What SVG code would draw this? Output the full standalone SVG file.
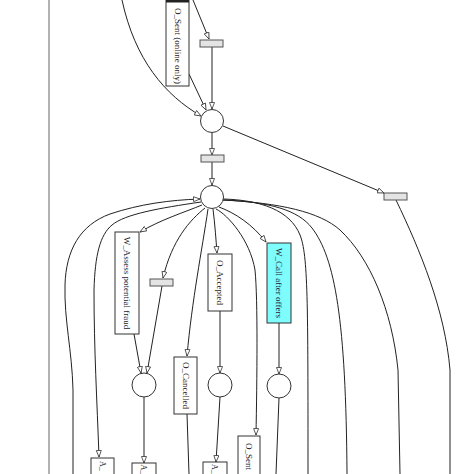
<svg xmlns="http://www.w3.org/2000/svg" width="474" height="474" viewBox="0 0 474 474">
<style>
.box{fill:#fff;stroke:#333;stroke-width:1}
.cyan{fill:#7ffcfc;stroke:#333;stroke-width:1}
.tr{fill:#e4e4e4;stroke:#555;stroke-width:1}
.pl{fill:#fff;stroke:#333;stroke-width:1}
.e{fill:none;stroke:#222;stroke-width:1}
.t{font-family:"Liberation Serif","Times New Roman",serif;font-size:9px;fill:#222;text-anchor:middle}
.s{font-family:"Liberation Serif","Times New Roman",serif;font-size:8px;fill:#222;text-anchor:start}
</style>
<defs>
<marker id="a" markerUnits="userSpaceOnUse" markerWidth="8" markerHeight="7" refX="7" refY="3" orient="auto">
<path d="M0.5,0.5 L7,3 L0.5,5.5 z" fill="#fff" stroke="#333" stroke-width="0.8"/>
</marker>
</defs>
<rect width="474" height="474" fill="#fff"/>
<line x1="49" y1="0" x2="49" y2="474" stroke="#999" stroke-width="1.5"/>
<g id="connectors">
<path class="e" d="M193,0 L209,39" marker-end="url(#a)"/>
<path class="e" d="M122,0 C135,60 165,95 201,116" marker-end="url(#a)"/>
<path class="e" d="M189,74 L206,110" marker-end="url(#a)"/>
<path class="e" d="M212,47 L212,109" marker-end="url(#a)"/>
<path class="e" d="M212,133 L212,155" marker-end="url(#a)"/>
<path class="e" d="M223,126 L384,193" marker-end="url(#a)"/>
<path class="e" d="M212,162 L212,185" marker-end="url(#a)"/>
<path class="e" d="M73,474 L73,390 C72,350 64,320 65,285 C66,250 80,225 110,214 C140,204 170,200 200,199" marker-end="url(#a)"/>
<path class="e" d="M201,202 C160,208 125,214 112,225 C100,235 95,255 94,290 C94,350 97,400 99,457" marker-end="url(#a)"/>
<path class="e" d="M202,205 C185,212 160,220 140,232" marker-end="url(#a)"/>
<path class="e" d="M205,208 C190,220 172,240 163,278" marker-end="url(#a)"/>
<path class="e" d="M208,209 C202,250 192,300 187,356" marker-end="url(#a)"/>
<path class="e" d="M213,209 C215,225 216,240 217,253" marker-end="url(#a)"/>
<path class="e" d="M219,207 C235,213 252,224 266,242" marker-end="url(#a)"/>
<path class="e" d="M216,209 C228,215 250,240 255,270 C258,300 257,380 256,435" marker-end="url(#a)"/>
<path class="e" d="M223,199 C260,200 290,210 300,235 C308,255 308,300 308,474"/>
<path class="e" d="M223,200 C270,202 298,210 312,228 C335,258 346,320 347,474"/>
<path class="e" d="M223,200 C280,203 320,212 340,230 C370,258 392,310 398,370 L400,474"/>
<path class="e" d="M396,200 C420,250 445,310 450,370 L450,474"/>
<path class="e" d="M134,334 L141,373" marker-end="url(#a)"/>
<path class="e" d="M162,286 L147,373" marker-end="url(#a)"/>
<path class="e" d="M220,311 L220,373" marker-end="url(#a)"/>
<path class="e" d="M279,323 L279,374" marker-end="url(#a)"/>
<path class="e" d="M144,397 L144,463" marker-end="url(#a)"/>
<path class="e" d="M220,397 L216,462" marker-end="url(#a)"/>
<path class="e" d="M187,414 L189,474"/>
<path class="e" d="M279,398 L276,474"/>
</g>
<g id="o_sent_online">
<rect class="box" x="166" y="-5" width="23" height="91"/>
<rect x="166" y="0" width="23" height="2.5" fill="#222"/>
<text class="t" transform="translate(174.5,46) rotate(90)">O_Sent (online only)</text>
</g>
<g id="t1"><rect class="tr" x="200" y="40" width="23" height="7"/></g>
<g id="p1"><circle class="pl" cx="212" cy="121" r="11.5"/></g>
<g id="t2"><rect class="tr" x="201" y="155" width="23" height="7"/></g>
<g id="p2"><circle class="pl" cx="212" cy="197" r="11.5"/></g>
<g id="t3"><rect class="tr" x="384" y="193" width="23" height="7"/></g>
<g id="w_assess">
<rect class="box" x="115" y="232" width="24" height="102"/>
<text class="t" transform="translate(124,283) rotate(90)">W_Assess potential fraud</text>
</g>
<g id="t4"><rect class="tr" x="150" y="279" width="23" height="7"/></g>
<g id="o_accepted">
<rect class="box" x="208" y="254" width="24" height="57"/>
<text class="t" transform="translate(217,282.5) rotate(90)">O_Accepted</text>
</g>
<g id="w_call">
<rect class="cyan" x="267" y="243" width="24" height="80"/>
<text class="t" transform="translate(276,283) rotate(90)">W_Call after offers</text>
</g>
<g id="o_cancelled">
<rect class="box" x="174" y="357" width="23" height="57"/>
<text class="t" transform="translate(182.5,385.5) rotate(90)">O_Cancelled</text>
</g>
<g id="p3"><circle class="pl" cx="144" cy="385" r="12"/></g>
<g id="p4"><circle class="pl" cx="220" cy="385" r="12"/></g>
<g id="p5"><circle class="pl" cx="279" cy="386" r="12"/></g>
<g id="a1">
<rect class="box" x="91" y="458" width="23" height="30"/>
<text class="s" transform="translate(100,461) rotate(90)">A_</text>
</g>
<g id="a2">
<rect class="box" x="132" y="463" width="24" height="30"/>
<text class="s" transform="translate(141,464.5) rotate(90)">A_</text>
</g>
<g id="a3">
<rect class="box" x="203" y="462" width="24" height="30"/>
<text class="s" transform="translate(212,464) rotate(90)">A_</text>
</g>
<g id="o_sent">
<rect class="box" x="238" y="436" width="22" height="50"/>
<text class="t" transform="translate(246,443) rotate(90)" style="text-anchor:start">O_Sent</text>
</g>
</svg>
